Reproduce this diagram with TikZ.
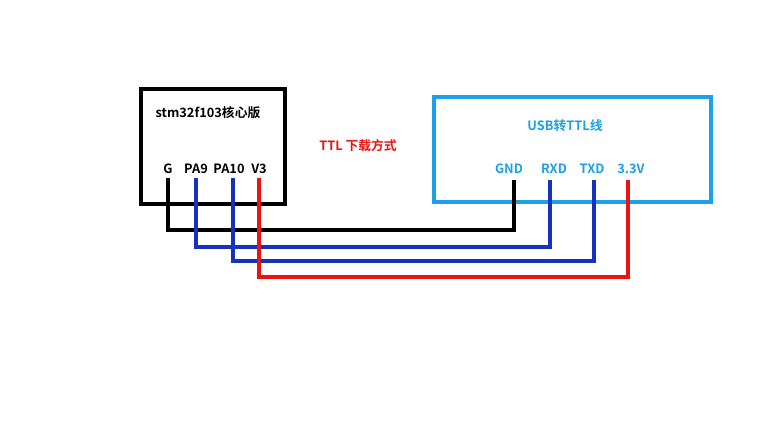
\documentclass[tikz,border=0pt]{standalone}
\usepackage{fontspec}
\setmainfont{Noto Sans CJK SC}[BoldFont={* Bold}]
\definecolor{cy}{RGB}{30,160,230}
\definecolor{bl}{RGB}{20,50,190}
\definecolor{rd}{RGB}{235,20,20}
\begin{document}
\begin{tikzpicture}[x=0.75pt,y=-0.75pt,
  lab/.style={font=\bfseries\fontsize{9.6}{11}\selectfont,inner sep=0pt},
  wire/.style={line width=2.3pt}]
\useasboundingbox[fill=white] (0,0) rectangle (772,421);
\draw[line width=2.4pt] (141,89) rectangle (285,204);
\draw[cy,line width=2.4pt] (434,97) rectangle (711,202);
\node[lab] (t1) at (208,113) {stm32f103核心版};
\node[lab,cy] (t2) at (565,126) {USB转TTL线};
\node[lab,rd] (t3) at (358,146) {TTL 下载方式};
\node[lab] (g) at (168,169) {G};
\node[lab] (pa9) at (196,169) {PA9};
\node[lab] (pa10) at (229,169) {PA10};
\node[lab] (v3) at (259,169) {V3};
\node[lab,cy] (gnd) at (509,169) {GND};
\node[lab,cy] (rxd) at (554,169) {RXD};
\node[lab,cy] (txd) at (592,169) {TXD};
\node[lab,cy] (v33) at (631,169) {3.3V};
\coordinate (a1) at (168,178); \coordinate (b1) at (514,180);
\coordinate (a2) at (196,178); \coordinate (b2) at (550,180);
\coordinate (a3) at (233,178); \coordinate (b3) at (594,180);
\coordinate (a4) at (259,178); \coordinate (b4) at (628,180);
\draw[wire] (a1) |- (514,230) -- (b1);
\draw[wire,bl] (a2) |- (550,247) -- (b2);
\draw[wire,bl] (a3) |- (594,261) -- (b3);
\draw[wire,rd] (a4) |- (628,277) -- (b4);
\end{tikzpicture}
\end{document}
